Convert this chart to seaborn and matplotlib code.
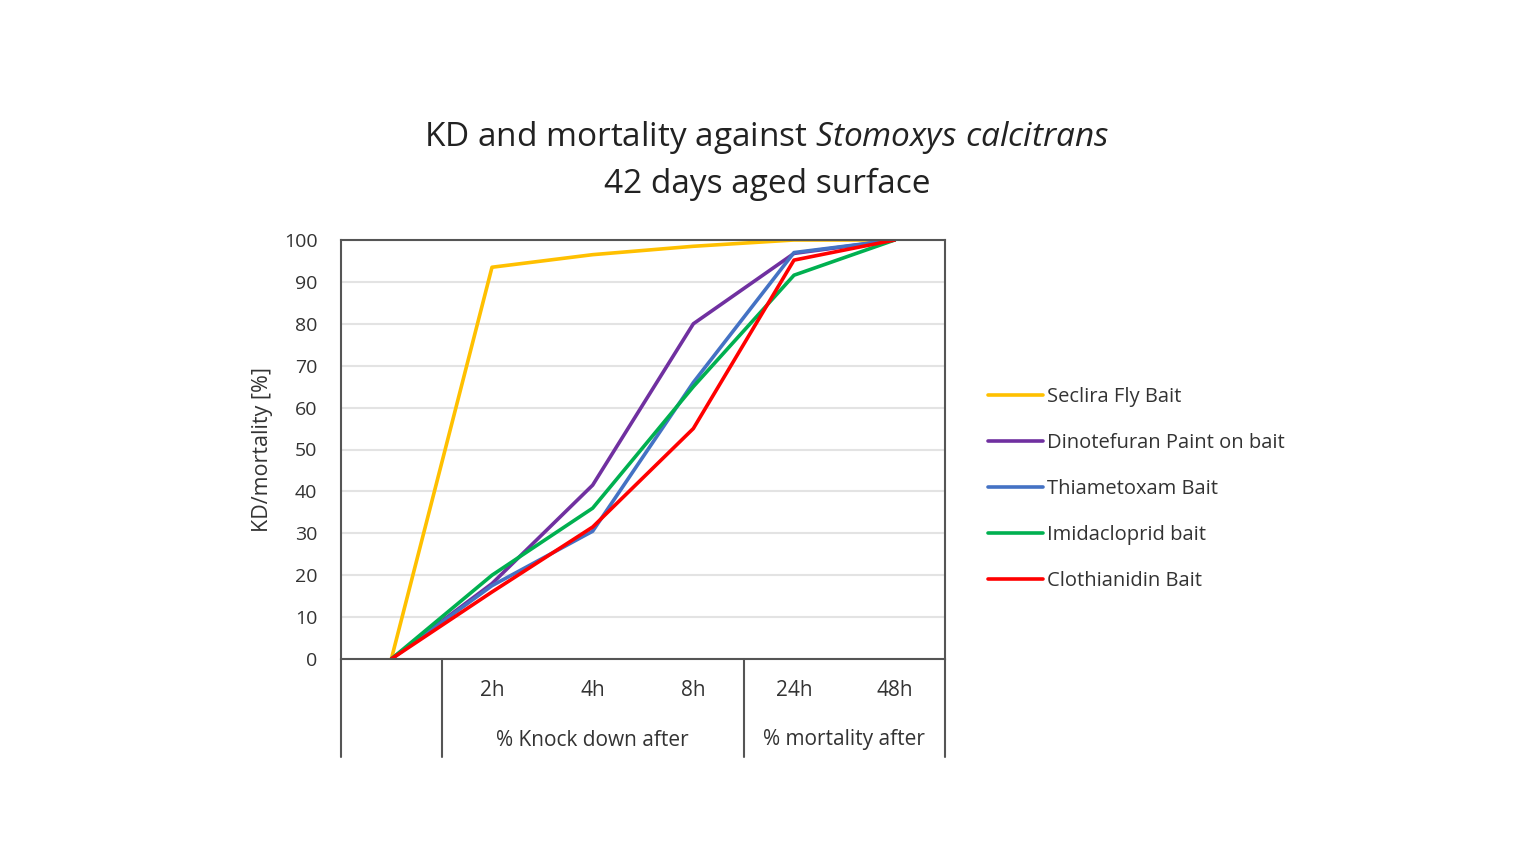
import numpy as np
import pandas as pd
import matplotlib
matplotlib.use("Agg")
import matplotlib.pyplot as plt
import seaborn as sns

categories = ["", "2h", "4h", "8h", "24h", "48h"]
series_names = ["Seclira Fly Bait", "Dinotefuran Paint on bait", "Thiametoxam Bait",
                "Imidacloprid bait", "Clothianidin Bait"]
seclira = [0, 93.5, 96.5, 98.5, 100, 100]
dinotefuran = [0, 18, 41.5, 80, 96.8, 100]
thiametoxam = [0, 17.5, 30.5, 66, 97, 100]
imidacloprid = [0, 20, 36, 65, 91.6, 100]
clothianidin = [0, 16, 31.5, 55, 95.2, 100]
group_labels = ["% Knock down after", "% mortality after"]
colors = ["#FFC000", "#7030A0", "#4472C4", "#00B050", "#FF0000"]

sns.set_theme(style="white")
plt.rcParams["font.family"] = ["Open Sans", "DejaVu Sans"]
plt.rcParams["mathtext.fontset"] = "custom"
plt.rcParams["mathtext.rm"] = "Open Sans"
plt.rcParams["mathtext.it"] = "Open Sans:italic"

values = [seclira, dinotefuran, thiametoxam, imidacloprid, clothianidin]
rows = []
for name, vals in zip(series_names, values):
    for i, v in enumerate(vals):
        rows.append({"pos": i, "value": v, "series": name})
df = pd.DataFrame(rows)

fig = plt.figure(figsize=(15.4, 8.66), dpi=100)
ax = fig.add_axes([341/1540, 1-659/866, (945-341)/1540, (659-240)/866])

sns.lineplot(data=df, x="pos", y="value", hue="series", hue_order=series_names,
             palette=colors, linewidth=2.6, ax=ax, legend=True, sort=False)

ax.set_xlim(-0.5, len(categories) - 0.5)
ax.set_ylim(0, 100)
ax.set_yticks(np.arange(0, 101, 10))
ax.yaxis.grid(True, color="#e3e3e3", linewidth=1.5)
ax.set_axisbelow(True)
for s in ax.spines.values():
    s.set_color("#555555")
    s.set_linewidth(1.5)
ax.tick_params(axis="y", length=0, labelsize=14, pad=17, colors="#333333")
ax.set_xticks([])
ax.set_xlabel("")
ax.set_ylabel("KD/mortality [%]", fontsize=15.5, color="#333333", labelpad=8)

# category axis table below the plot
tr = ax.get_xaxis_transform()
depth = (757 - 659) / 419
for xb in [-0.5, 0.5, 3.5, len(categories) - 0.5]:
    ax.plot([xb, xb], [0, -depth], transform=tr, color="#555555", lw=1.5, clip_on=False)
for i, c in enumerate(categories):
    ax.text(i, -31/419, c, transform=tr, ha="center", va="center", fontsize=15, color="#333333")
ax.text(2, -81/419, group_labels[0], transform=tr, ha="center", va="center", fontsize=15, color="#333333")
ax.text(4.5, -81/419, group_labels[1], transform=tr, ha="center", va="center", fontsize=15, color="#333333")

leg = ax.legend(loc="center left", bbox_to_anchor=(988/1540, 1-489/866),
                bbox_transform=fig.transFigure, frameon=False, fontsize=14.5,
                handlelength=2.75, handletextpad=0.2, labelspacing=1.3,
                borderpad=0, borderaxespad=0)
for line in leg.get_lines():
    line.set_linewidth(2.6)
for t in leg.get_texts():
    t.set_color("#333333")

fig.text(767/1540, 1-137/866, r"KD and mortality against $\it{Stomoxys\ calcitrans}$",
         ha="center", va="center", fontsize=24, color="#222222")
fig.text(767/1540, 1-184/866, "42 days aged surface",
         ha="center", va="center", fontsize=24, color="#222222")

fig.savefig("out.png", dpi=100, facecolor="white")
